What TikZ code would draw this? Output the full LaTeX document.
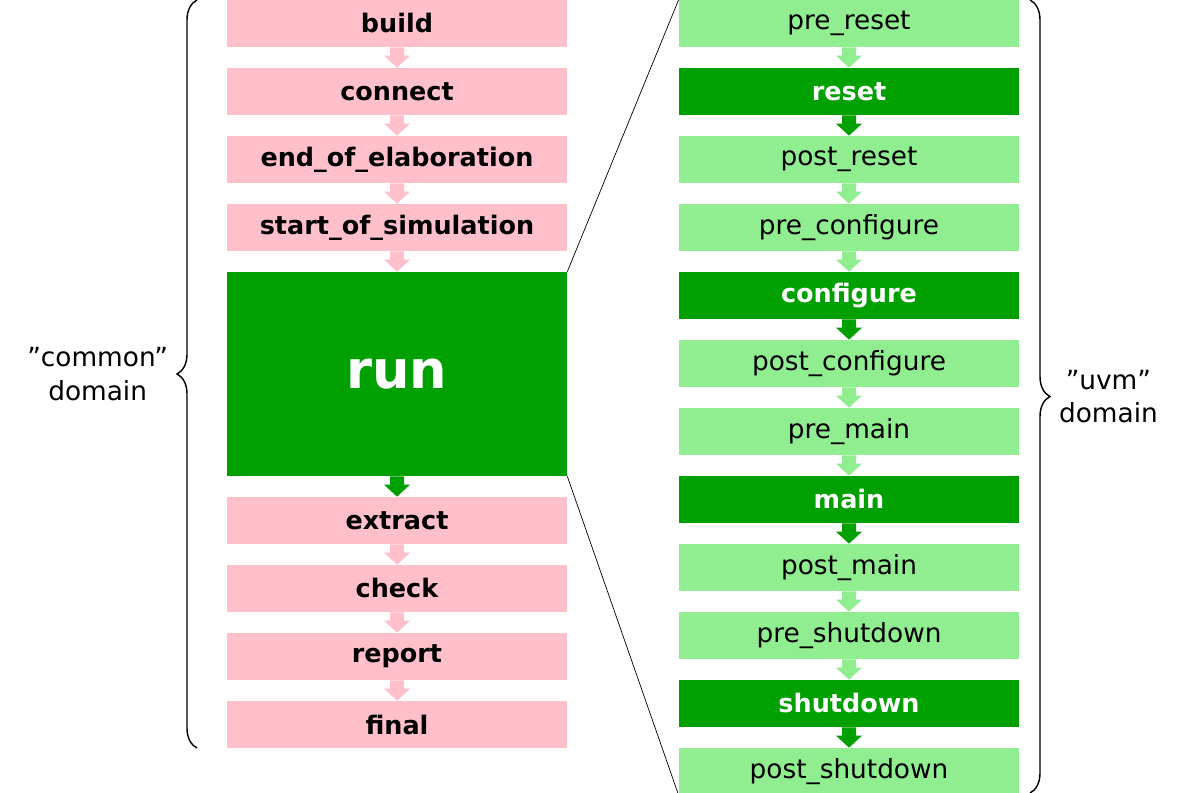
\documentclass[tikz,border=0pt]{standalone}
\usepackage{fontspec}
\setmainfont{DejaVu Sans}
\usetikzlibrary{calc,decorations.pathreplacing}
\definecolor{pinkph}{HTML}{FFC0CB}
\definecolor{lightph}{HTML}{90EE90}
\definecolor{darkph}{HTML}{00A000}
\tikzset{
  phase/.style={rectangle,inner sep=0,minimum width=6.8cm,minimum height=0.94cm,
    font=\fontsize{14.5}{17}\selectfont\bfseries},
  common/.style={phase,fill=pinkph},
  uvmlight/.style={phase,fill=lightph,font=\fontsize{15}{18}\selectfont},
  uvmdark/.style={phase,fill=darkph,text=white},
}
% block arrow from box #1 to box #2 in colour #3
\newcommand{\blk}[3]{%
  \fill[#3] ($(#1.south)+(-7,0)$) -- ($(#2.north)+(-7,-12)$) -- ($(#2.north)+(-13,-12)$)
    -- (#2.north) -- ($(#2.north)+(13,-12)$) -- ($(#2.north)+(7,-12)$)
    -- ($(#1.south)+(7,0)$) -- cycle;}
\begin{document}
\begin{tikzpicture}[x=0.02cm,y=-0.02cm]
\useasboundingbox (0,0) rectangle (1200,793);

\node[common] (BUILD) at (397,23.5) {build};
\node[common] (CONNECT) at (397,91.5) {connect};
\node[common] (EOE) at (397,159.5) {end\_of\_elaboration};
\node[common] (SOS) at (397,227.5) {start\_of\_simulation};
\node[common,fill=darkph,text=white,minimum height=4.08cm,
  font=\fontsize{30}{34}\selectfont\bfseries] (RUN) at (397,374) {run};
\node[common] (EXTRACT) at (397,520.5) {extract};
\node[common] (CHECK) at (397,588.5) {check};
\node[common] (REPORT) at (397,656.5) {report};
\node[common] (FINAL) at (397,724.5) {final};

\blk{BUILD}{CONNECT}{pinkph}
\blk{CONNECT}{EOE}{pinkph}
\blk{EOE}{SOS}{pinkph}
\blk{SOS}{RUN}{pinkph}
\blk{RUN}{EXTRACT}{darkph}
\blk{EXTRACT}{CHECK}{pinkph}
\blk{CHECK}{REPORT}{pinkph}
\blk{REPORT}{FINAL}{pinkph}

\node[uvmlight] (PRERESET) at (849,23.5) {pre\_reset};
\node[uvmdark] (RESET) at (849,91.5) {reset};
\node[uvmlight] (POSTRESET) at (849,159.5) {post\_reset};
\node[uvmlight] (PRECONF) at (849,227.5) {pre\_configure};
\node[uvmdark] (CONF) at (849,295.5) {configure};
\node[uvmlight] (POSTCONF) at (849,363.5) {post\_configure};
\node[uvmlight] (PREMAIN) at (849,431.5) {pre\_main};
\node[uvmdark] (MAIN) at (849,499.5) {main};
\node[uvmlight] (POSTMAIN) at (849,567.5) {post\_main};
\node[uvmlight] (PRESHUT) at (849,635.5) {pre\_shutdown};
\node[uvmdark] (SHUT) at (849,703.5) {shutdown};
\node[uvmlight] (POSTSHUT) at (849,771.5) {post\_shutdown};

\blk{PRERESET}{RESET}{lightph}
\blk{RESET}{POSTRESET}{darkph}
\blk{POSTRESET}{PRECONF}{lightph}
\blk{PRECONF}{CONF}{lightph}
\blk{CONF}{POSTCONF}{darkph}
\blk{POSTCONF}{PREMAIN}{lightph}
\blk{PREMAIN}{MAIN}{lightph}
\blk{MAIN}{POSTMAIN}{darkph}
\blk{POSTMAIN}{PRESHUT}{lightph}
\blk{PRESHUT}{SHUT}{lightph}
\blk{SHUT}{POSTSHUT}{darkph}

\draw (RUN.north east) -- (PRERESET.north west);
\draw (RUN.south east) -- (POSTSHUT.south west);

\draw[thick,decorate,decoration={brace,amplitude=0.4cm}] (197,748) -- (197,0)
  node[midway,left=0.45cm,align=center,font=\fontsize{15}{19}\selectfont] (COMMON) {"common"\\domain};
\draw[thick,decorate,decoration={brace,amplitude=0.4cm}] (1030,0) -- (1030,793)
  node[midway,right=0.45cm,align=center,font=\fontsize{15}{19}\selectfont] (UVM) {"uvm"\\domain};

\end{tikzpicture}
\end{document}
